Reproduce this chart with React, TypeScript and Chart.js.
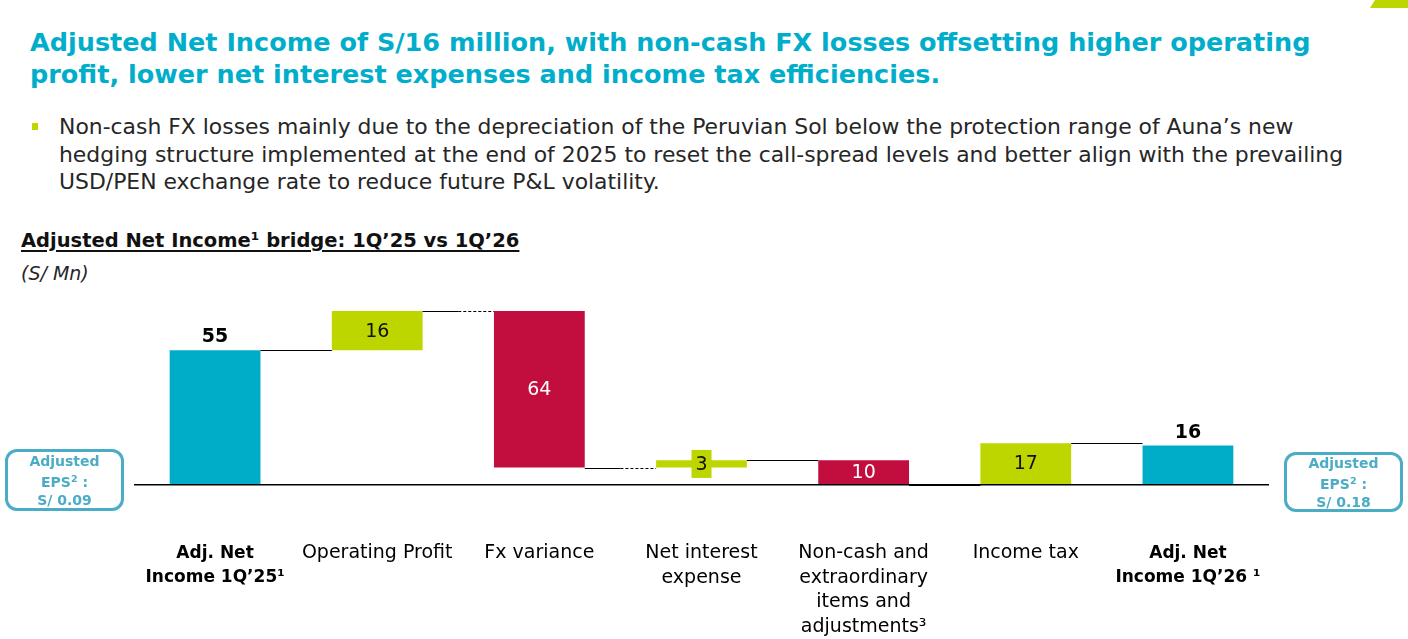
import { useEffect, useRef } from "react";
import { Chart, registerables } from "chart.js";

Chart.register(...registerables);

// ---- Bridge data (S/ Mn) ----
const categories: (string | string[])[] = [
  ["Adj. Net", "Income 1Q’25¹"],
  "Operating Profit",
  "Fx variance",
  ["Net interest", "expense"],
  ["Non-cash and", "extraordinary", "items and", "adjustments³"],
  "Income tax",
  ["Adj. Net", "Income 1Q’26 ¹"],
];
const openingValue = 55;
const bridgeChanges = [16, -64, 3, -10, 17];
const closingValue = 16;
const epsOpening = "S/ 0.09";
const epsClosing = "S/ 0.18";

const FONT = '"DejaVu Sans", sans-serif';
const TEAL = "#00ADC9";
const LIME = "#BED600";
const CRIMSON = "#C20E3E";
const EPS_BLUE = "#4BACC6";
const TITLE_BLUE = "#00AECB";
const TEXT = "#262626";

type Kind = "total" | "up" | "down";

// floating ranges for the waterfall
const ranges: [number, number][] = [];
const kinds: Kind[] = [];
const shownValues: number[] = [];
{
  ranges.push([0, openingValue]);
  kinds.push("total");
  shownValues.push(openingValue);
  let running = openingValue;
  for (const change of bridgeChanges) {
    ranges.push([running, running + change]);
    kinds.push(change >= 0 ? "up" : "down");
    shownValues.push(Math.abs(change));
    running += change;
  }
  ranges.push([0, closingValue]);
  kinds.push("total");
  shownValues.push(closingValue);
}
const kindColor = (k: Kind) => (k === "total" ? TEAL : k === "up" ? LIME : CRIMSON);

// connectors between consecutive bars + value labels
const bridgeDecor = {
  id: "bridgeDecor",
  afterDatasetsDraw(chart: any) {
    const { ctx } = chart;
    const yScale = chart.scales.y;
    const bars = chart.getDatasetMeta(0).data;
    ctx.save();
    ctx.strokeStyle = "#000";
    ctx.lineWidth = 1;
    for (let i = 0; i < bars.length - 1; i++) {
      const a = bars[i].getProps(["x", "width"], true);
      const b = bars[i + 1].getProps(["x", "width"], true);
      const py = Math.round(yScale.getPixelForValue(ranges[i][1])) + 0.5;
      const x0 = a.x + a.width / 2;
      const x1 = b.x - b.width / 2;
      const halfDashed = i === 1 || i === 2;
      const mid = halfDashed ? (x0 + x1) / 2 : x1;
      ctx.setLineDash([]);
      ctx.beginPath();
      ctx.moveTo(x0, py);
      ctx.lineTo(mid, py);
      ctx.stroke();
      if (halfDashed) {
        ctx.setLineDash([3, 2]);
        ctx.beginPath();
        ctx.moveTo(mid, py);
        ctx.lineTo(x1, py);
        ctx.stroke();
      }
    }
    ctx.setLineDash([]);

    ctx.textAlign = "center";
    bars.forEach((bar: any, i: number) => {
      const { x, y, base } = bar.getProps(["x", "y", "base"], true);
      const text = String(shownValues[i]);
      const kind = kinds[i];
      if (kind === "total") {
        ctx.font = `bold 19px ${FONT}`;
        ctx.fillStyle = "#000";
        ctx.textBaseline = "alphabetic";
        ctx.fillText(text, x, Math.min(y, base) - 8);
        return;
      }
      const mid = (y + base) / 2;
      // a thin bar gets a small tab behind its value
      if (Math.abs(base - y) < 15) {
        ctx.fillStyle = kindColor(kind);
        ctx.fillRect(x - 10, mid - 14, 20, 28);
      }
      ctx.font = `19px ${FONT}`;
      ctx.fillStyle = kind === "down" ? "#fff" : "#111";
      ctx.textBaseline = "middle";
      ctx.fillText(text, x, mid + 1);
    });
    ctx.restore();
  },
};

function BridgeChart() {
  const ref = useRef<HTMLCanvasElement>(null);
  useEffect(() => {
    if (!ref.current) return;
    const chart = new Chart(ref.current, {
      type: "bar",
      data: {
        labels: categories,
        datasets: [
          {
            data: ranges as any,
            backgroundColor: kinds.map(kindColor),
            borderWidth: 0,
            categoryPercentage: 0.56,
            barPercentage: 1,
          },
        ],
      },
      options: {
        animation: false,
        responsive: false,
        maintainAspectRatio: false,
        layout: { padding: { left: 134, right: 139, top: 289, bottom: 0 } },
        plugins: { legend: { display: false }, tooltip: { enabled: false } },
        scales: {
          x: {
            grid: { display: false, drawTicks: false },
            border: { display: false },
            ticks: {
              autoSkip: false,
              maxRotation: 0,
              padding: 0,
              color: "#000",
              font: (c: any) => {
                const strong = c.index === 0 || c.index === categories.length - 1;
                return {
                  family: FONT,
                  size: strong ? 17 : 19,
                  weight: strong ? "bold" : "normal",
                  lineHeight: "24.5px",
                };
              },
            },
          },
          y: {
            min: -23,
            max: 80,
            ticks: { display: false, stepSize: 10 },
            grid: {
              drawTicks: false,
              color: (c: any) => (c.tick && c.tick.value === 0 ? "#000" : "rgba(0,0,0,0)"),
              lineWidth: 1.5,
            },
            border: { display: false },
          },
        },
      },
      plugins: [bridgeDecor],
    });
    return () => chart.destroy();
  }, []);
  return (
    <canvas
      ref={ref}
      width={1408}
      height={639}
      style={{ position: "absolute", left: 0, top: 0, width: 1408, height: 639 }}
    />
  );
}

function EpsBox({ left, top, height, value }: { left: number; top: number; height: number; value: string }) {
  return (
    <div
      style={{
        position: "absolute",
        left,
        top,
        width: 119,
        height,
        boxSizing: "border-box",
        border: `3px solid ${EPS_BLUE}`,
        borderRadius: 12,
        color: EPS_BLUE,
        fontFamily: FONT,
        fontWeight: "bold",
        fontSize: 14,
        lineHeight: "18px",
        textAlign: "center",
        display: "flex",
        flexDirection: "column",
        justifyContent: "center",
        background: "#fff",
      }}
    >
      <div>Adjusted</div>
      <div>
        EPS<span style={{ fontSize: 9.5, verticalAlign: "5px" }}>2</span> :
      </div>
      <div>{value}</div>
    </div>
  );
}

export default function App() {
  return (
    <div
      style={{
        position: "absolute",
        left: 0,
        top: 0,
        width: 1408,
        height: 639,
        overflow: "hidden",
        background: "#fff",
        fontFamily: FONT,
      }}
    >
      <div
        style={{
          position: "absolute",
          right: 0,
          top: 0,
          width: 38,
          height: 8,
          background: LIME,
          clipPath: "polygon(5px 0, 100% 0, 100% 100%, 0 100%)",
        }}
      />
      <div
        style={{
          position: "absolute",
          left: 30,
          top: 26,
          color: TITLE_BLUE,
          fontWeight: "bold",
          fontSize: 25.5,
          lineHeight: "32px",
          whiteSpace: "nowrap",
        }}
      >
        Adjusted Net Income of S/16 million, with non-cash FX losses offsetting higher operating
        <br />
        profit, lower net interest expenses and income tax efficiencies.
      </div>
      <div style={{ position: "absolute", left: 32, top: 123, width: 6, height: 7, background: LIME }} />
      <div
        style={{
          position: "absolute",
          left: 59,
          top: 113,
          color: TEXT,
          fontSize: 21.9,
          lineHeight: "27.5px",
          whiteSpace: "nowrap",
        }}
      >
        Non-cash FX losses mainly due to the depreciation of the Peruvian Sol below the protection range of Auna’s new
        <br />
        hedging structure implemented at the end of 2025 to reset the call-spread levels and better align with the prevailing
        <br />
        USD/PEN exchange rate to reduce future P&amp;L volatility.
      </div>
      <div
        style={{
          position: "absolute",
          left: 21,
          top: 229,
          color: "#111",
          fontWeight: "bold",
          fontSize: 19.5,
          lineHeight: "24px",
          whiteSpace: "nowrap",
          textDecoration: "underline",
          textDecorationThickness: 2,
          textUnderlineOffset: 3,
        }}
      >
        Adjusted Net Income¹ bridge: 1Q’25 vs 1Q’26
      </div>
      <div
        style={{
          position: "absolute",
          left: 21,
          top: 261,
          color: TEXT,
          fontStyle: "italic",
          fontSize: 19,
          lineHeight: "24px",
        }}
      >
        (S/ Mn)
      </div>
      <BridgeChart />
      <EpsBox left={5} top={449} height={62} value={epsOpening} />
      <EpsBox left={1284} top={452} height={60} value={epsClosing} />
    </div>
  );
}
